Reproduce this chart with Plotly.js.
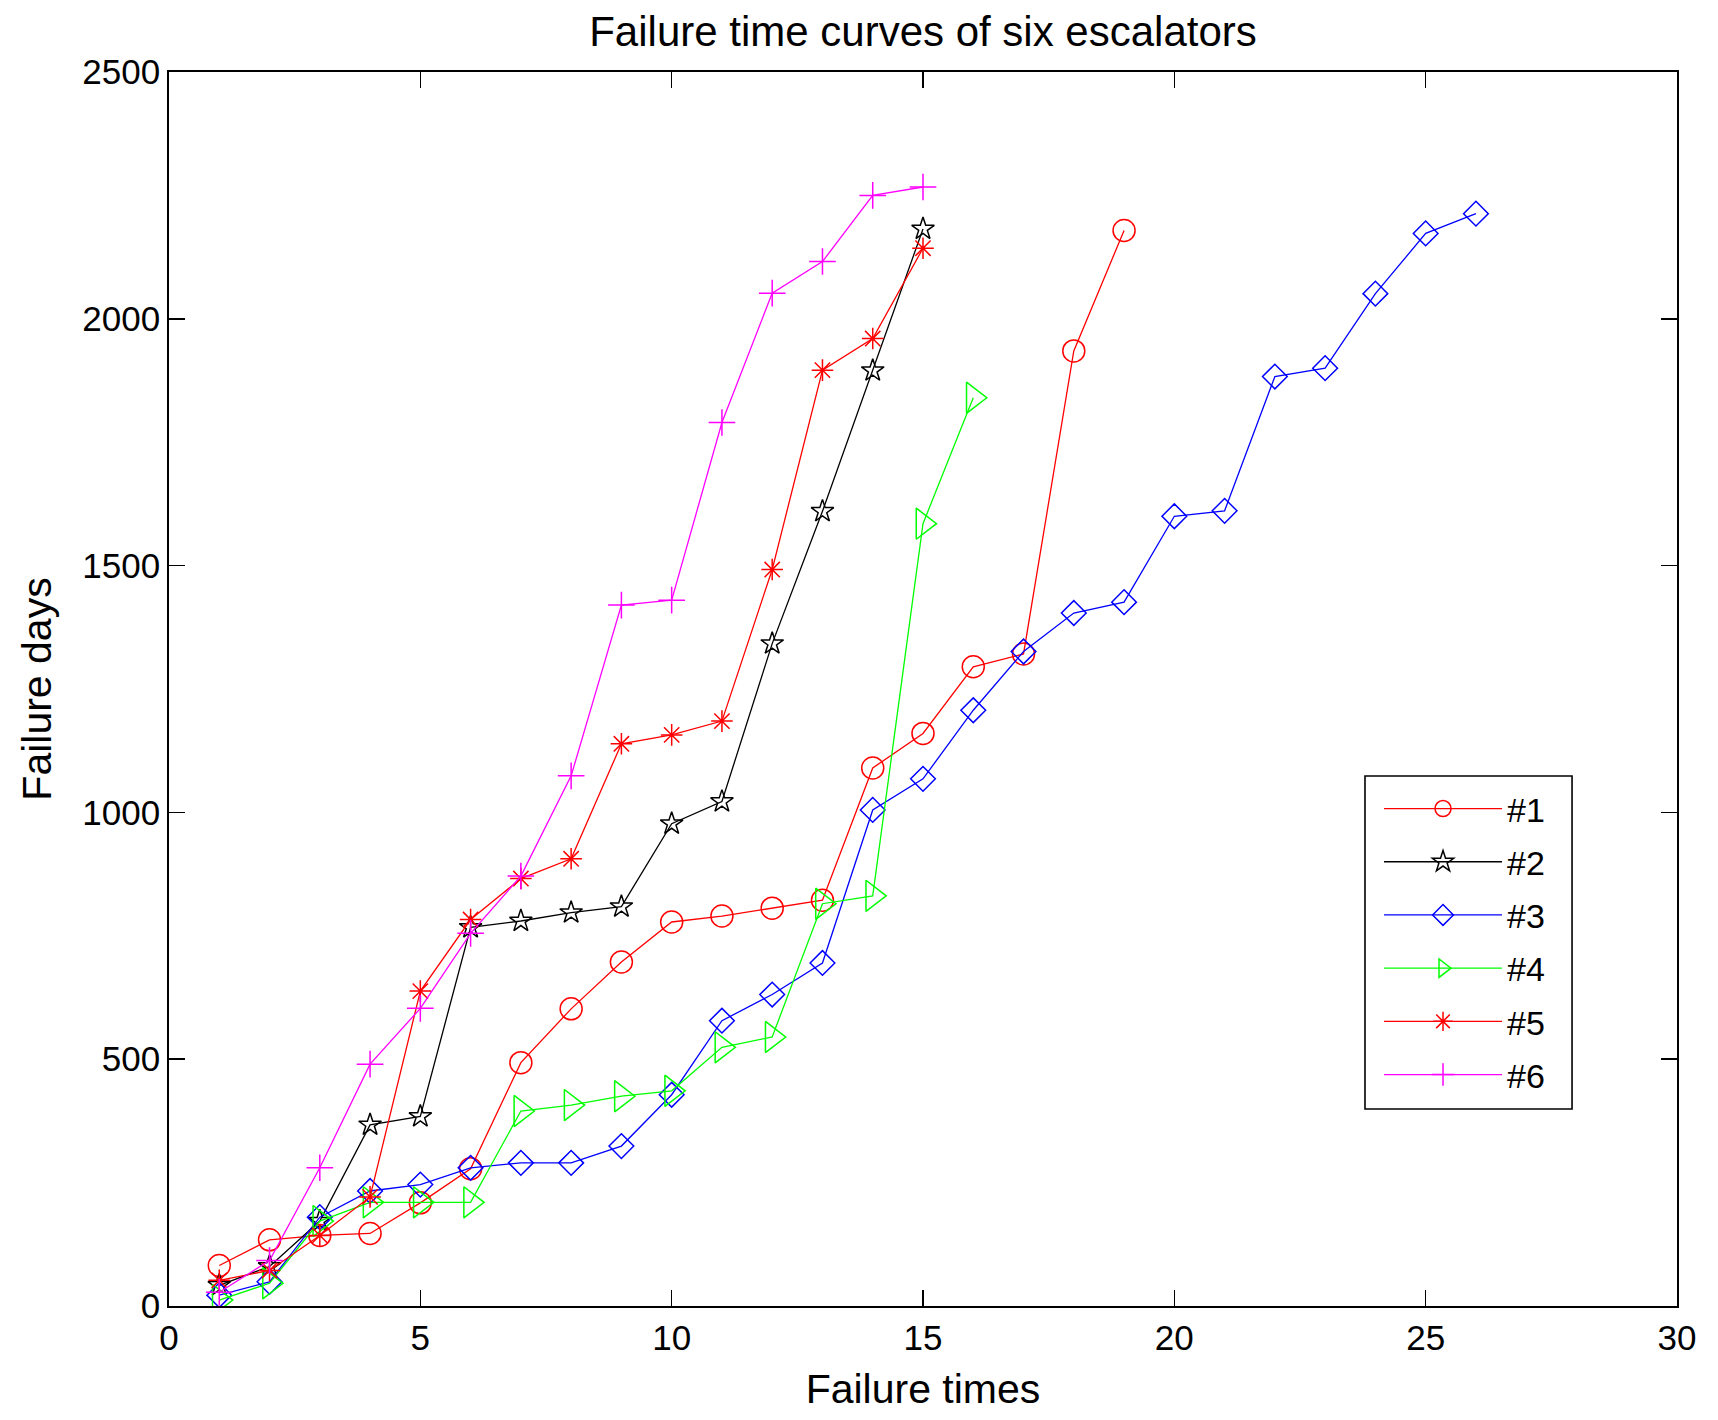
<!DOCTYPE html>
<html>
<head>
<meta charset="utf-8">
<script src="https://cdn.plot.ly/plotly-3.0.1.min.js"></script>
<style>
  html, body { margin: 0; padding: 0; background: #ffffff; }
  #chart { width: 1718px; height: 1420px; }
</style>
</head>
<body>
<div id="chart"></div>
<script>
// Failure days for each escalator, indexed by failure time (1, 2, 3, ...)
const seriesNames = ["#1", "#2", "#3", "#4", "#5", "#6"];
const escalator1 = [82, 134, 143, 147, 209, 278, 493, 602, 697, 778, 790, 806, 822, 1090, 1160, 1295, 1321, 1935, 2179];
const escalator2 = [42, 80, 172, 367, 384, 767, 780, 797, 809, 977, 1022, 1342, 1610, 1895, 2182];
const escalator3 = [22, 49, 180, 233, 246, 280, 290, 290, 324, 428, 578, 631, 695, 1005, 1068, 1207, 1326, 1404, 1426, 1600, 1611, 1883, 1900, 2051, 2173, 2213];
const escalator4 = [12, 46, 172, 210, 210, 210, 395, 407, 425, 436, 524, 545, 815, 831, 1585, 1840];
const escalator5 = [52, 72, 143, 221, 638, 783, 866, 906, 1139, 1157, 1185, 1492, 1896, 1960, 2143];
const escalator6 = [28, 92, 280, 490, 603, 755, 871, 1074, 1420, 1430, 1790, 2052, 2116, 2250, 2267];
const xTickVals = [0, 5, 10, 15, 20, 25, 30];
const yTickVals = [0, 500, 1000, 1500, 2000, 2500];

const allSeries = [escalator1, escalator2, escalator3, escalator4, escalator5, escalator6];
const colors = ["#ff0000", "#000000", "#0000ff", "#00ff00", "#ff0000", "#ff00ff"];
const symbols = ["circle-open", "star-open", "diamond-open", "triangle-right-open", "asterisk-open", "cross-thin-open"];
const sizes = [22, 17, 19, 27, 18, 19];

const FONT = "Liberation Sans, Arial, Helvetica, sans-serif";

const traces = allSeries.map((vals, i) => ({
  type: "scatter",
  mode: "lines+markers",
  name: seriesNames[i],
  legendgroup: "g" + i,
  x: vals.map((_, k) => k + 1),
  y: vals,
  line: { color: colors[i], width: 1.3 },
  marker: {
    symbol: symbols[i],
    size: sizes[i],
    color: colors[i],
    line: { color: colors[i], width: 1.5 }
  }
}));

const axisCommon = {
  showgrid: false,
  zeroline: false,
  showline: true,
  linecolor: "#000000",
  linewidth: 1.8,
  mirror: "ticks",
  ticks: "inside",
  ticklen: 16,
  tickwidth: 1.5,
  tickcolor: "#000000",
  tickfont: { family: FONT, size: 35, color: "#000000" }
};

const layout = {
  width: 1718,
  height: 1420,
  paper_bgcolor: "#ffffff",
  plot_bgcolor: "#ffffff",
  margin: { l: 169, r: 41, t: 72, b: 114 },
  title: {
    text: "Failure time curves of six escalators",
    font: { family: FONT, size: 42, color: "#000000" },
    x: 0.5, xref: "paper", xanchor: "center",
    y: 0.978, yref: "container", yanchor: "middle"
  },
  xaxis: Object.assign({}, axisCommon, {
    range: [0, 30],
    tickvals: xTickVals,
    ticktext: xTickVals.map(String),
    title: { text: "Failure times", font: { family: FONT, size: 41, color: "#000000" }, standoff: 18 }
  }),
  yaxis: Object.assign({}, axisCommon, {
    range: [0, 2500],
    tickvals: yTickVals,
    ticktext: yTickVals.map(String),
    title: { text: "Failure days", font: { family: FONT, size: 41, color: "#000000" }, standoff: 18 }
  }),
  showlegend: true,
  legend: {
    x: 0.8024, y: 0.4263, xanchor: "left", yanchor: "top",
    bgcolor: "rgba(0,0,0,0)",
    borderwidth: 0,
    font: { family: FONT, size: 34, color: "#000000" },
    itemwidth: 118,
    tracegroupgap: 6
  },
  shapes: [{
    type: "rect", xref: "paper", yref: "paper",
    x0: 0.7931, x1: 0.9304, y0: 0.1596, y1: 0.4295,
    line: { color: "#000000", width: 1.6 },
    fillcolor: "rgba(0,0,0,0)",
    layer: "above"
  }]
};

Plotly.newPlot("chart", traces, layout, { displayModeBar: false, staticPlot: true });
</script>
</body>
</html>
